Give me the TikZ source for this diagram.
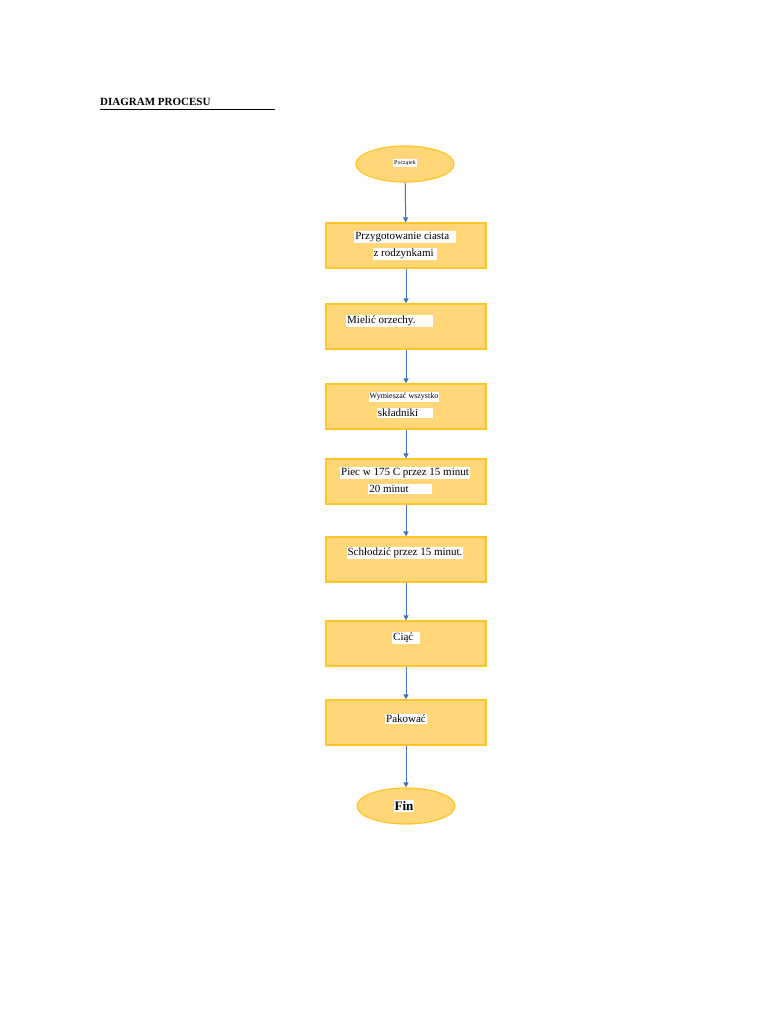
\documentclass[tikz,border=0pt]{standalone}
\usepackage{fontspec}
\setmainfont{Liberation Serif}
\usetikzlibrary{shapes.geometric,arrows.meta}
\definecolor{boxfill}{RGB}{255,214,120}
\definecolor{boxline}{RGB}{255,196,40}
\definecolor{arr}{RGB}{68,114,196}
\begin{document}
\begin{tikzpicture}[x=1pt,y=-1pt,
 stepbox/.style={draw=boxline,line width=1.2pt,fill=boxfill,minimum width=160pt,minimum height=45pt,anchor=center},
 term/.style={ellipse,draw=boxline,line width=1.2pt,fill=boxfill,minimum width=98pt,minimum height=36pt},
 lbl/.style={fill=white,inner sep=1pt,font=\fontsize{11}{12}\selectfont},
 flow/.style={draw=arr,line width=1pt,-{Triangle[length=5pt,width=5pt]}}]
\useasboundingbox (0,0) rectangle (768,1024);
\node[anchor=west,inner sep=0pt,font=\bfseries\fontsize{11}{12}\selectfont] (title) at (100,102) {DIAGRAM PROCESU};
\draw (100,109) -- (275,109);
\node[term] (s) at (405,164) {};
\node[lbl,font=\fontsize{6}{7}\selectfont] at (405,163) {Początek};
\node[stepbox] (b1) at (406,245.5) {};
\node[lbl] at (405,237) {Przygotowanie ciasta\ \ \ };
\node[lbl] at (405,254) {z rodzynkami\ \ };
\node[stepbox] (b2) at (406,326.5) {};
\node[lbl,anchor=west] at (346,321) {Mielić orzechy.\ \ \ \ \ \ \ };
\node[stepbox] (b3) at (406,406.5) {};
\node[lbl,font=\fontsize{8}{9}\selectfont] at (404,397) {Wymieszać wszystko};
\node[lbl] at (405,413) {składniki\ \ \ \ \ \ };
\node[stepbox] (b4) at (406,481.5) {};
\node[lbl] at (405,473) {Piec w 175 C przez 15 minut};
\node[lbl] at (400,489) {20 minut\ \ \ \ \ \ \ \ \ };
\node[stepbox] (b5) at (406,559.5) {};
\node[lbl] at (405,553) {Schłodzić przez 15 minut.};
\node[stepbox] (b6) at (406,643.5) {};
\node[lbl] at (406,638) {Ciąć\ \ \ };
\node[lbl] at (406,719) {Pakować};
\node[stepbox] (b7) at (406,722.5) {};
\node[lbl] at (406,719) {Pakować};
\node[term] (e) at (406,806) {};
\node[lbl,font=\bfseries\fontsize{13}{14}\selectfont] at (404,806) {Fin};
\draw[flow] (s) -- (b1);
\draw[flow] (b1) -- (b2);
\draw[flow] (b2) -- (b3);
\draw[flow] (b3) -- (b4);
\draw[flow] (b4) -- (b5);
\draw[flow] (b5) -- (b6);
\draw[flow] (b6) -- (b7);
\draw[flow] (b7) -- (e);
\end{tikzpicture}
\end{document}
